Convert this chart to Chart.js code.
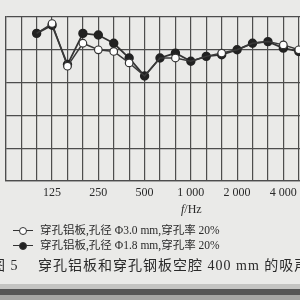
<!DOCTYPE html>
<html>
<head>
<meta charset="utf-8">
<script src="https://cdn.jsdelivr.net/npm/chart.js@4.4.0/dist/chart.umd.min.js"></script>
<style>
html, body { margin: 0; padding: 0; width: 300px; height: 300px; overflow: hidden; background: #eaeae8; }
#wrap { position: absolute; left: 0; top: 0; width: 320px; height: 205px; }
.txt { position: absolute; font-family: "Liberation Serif", "Noto Sans CJK SC", serif; color: #2a2a2a; white-space: nowrap; }
#xtitle { left: 181px; top: 202px; font-size: 12px; }
.leg { left: 13px; font-size: 11.5px; line-height: 14px; }
.mk { display: inline-block; position: relative; width: 20px; height: 14px; vertical-align: top; margin-right: 7px; }
.mk::before { content: ""; position: absolute; left: 0; right: 0; top: 7px; height: 1px; background: #333; }
.mk i { position: absolute; left: 6px; top: 3.5px; width: 6px; height: 6px; border-radius: 50%; border: 1px solid #333; box-sizing: content-box; }
.mk.open i { background: #fff; }
.mk.fill i { background: #222; }
#cap { left: -9px; top: 254px; font-size: 14px; letter-spacing: 1px; }
#b1 { position: absolute; left: 0; width: 300px; top: 284px; height: 5px; background: #c4c4c2; }
#b2 { position: absolute; left: 0; width: 300px; top: 289px; height: 6px; background: #555; }
#b3 { position: absolute; left: 0; width: 300px; top: 295px; height: 5px; background: #a5a5a3; }
</style>
</head>
<body>
<div id="wrap"><canvas id="c"></canvas></div>
<div class="txt" id="xtitle"><i>f</i>/Hz</div>
<div class="txt leg" style="top:223px"><span class="mk open"><i></i></span>穿孔铝板,孔径 Φ3.0 mm,穿孔率 20%</div>
<div class="txt leg" style="top:238px"><span class="mk fill"><i></i></span>穿孔铝板,孔径 Φ1.8 mm,穿孔率 20%</div>
<div class="txt" id="cap">图 5　 穿孔铝板和穿孔钢板空腔 400 mm 的吸声特性</div>
<div id="b1"></div><div id="b2"></div><div id="b3"></div>
<script>
// 1/3 octave band centres
const freqs = ['63', '80', '100', '125', '160', '200', '250', '315', '400', '500', '630',
    '800', '1000', '1250', '1600', '2000', '2500', '3150', '4000', '5000', '6300'];
const shownTicks = ['125', '250', '500', '1000', '2000', '4000'];
const tickText = ['125', '250', '500', '1 000', '2 000', '4 000'];

// absorption coefficient, hole 3.0 mm (open circles)
const hole30 = [null, null, 0.90, 0.96, 0.70, 0.84, 0.80, 0.79, 0.72, 0.64, 0.75,
    0.75, 0.73, 0.76, 0.78, 0.80, 0.84, 0.85, 0.83, 0.80, null];
// hole 1.8 mm (filled dots)
const hole18 = [null, null, 0.90, 0.95, 0.71, 0.90, 0.89, 0.84, 0.75, 0.64, 0.75,
    0.78, 0.73, 0.76, 0.77, 0.80, 0.84, 0.85, 0.81, 0.79, null];

const gridColor = '#4d4d4d';

new Chart(document.getElementById('c'), {
    type: 'line',
    data: {
        labels: freqs,
        datasets: [
            {
                label: '穿孔铝板,孔径 Φ3.0 mm,穿孔率 20%',
                data: hole30,
                borderColor: '#3a3a3a',
                borderWidth: 1.5,
                pointBackgroundColor: '#fff',
                pointBorderColor: '#333',
                pointBorderWidth: 1.2,
                // where both series meet only the dot shows
                pointRadius: ctx => hole30[ctx.dataIndex] === hole18[ctx.dataIndex] ? 0 : 3.8,
                tension: 0
            },
            {
                label: '穿孔铝板,孔径 Φ1.8 mm,穿孔率 20%',
                data: hole18,
                borderColor: '#333',
                borderWidth: 1.8,
                pointBackgroundColor: '#222',
                pointBorderColor: '#222',
                pointRadius: 3.8,
                tension: 0
            }
        ]
    },
    options: {
        responsive: true,
        maintainAspectRatio: false,
        animation: false,
        layout: { padding: { left: 5, top: 17, right: 5, bottom: 0 } },
        plugins: { legend: { display: false }, tooltip: { enabled: false } },
        scales: {
            x: {
                type: 'category',
                offset: false,
                grid: { color: gridColor, lineWidth: 1.2, drawTicks: false, offset: false },
                border: { color: gridColor, width: 1.2 },
                ticks: {
                    autoSkip: false,
                    maxRotation: 0,
                    padding: 5,
                    color: '#2a2a2a',
                    font: { family: 'Liberation Serif', size: 12 },
                    callback: function (v, i) {
                        const k = shownTicks.indexOf(freqs[i]);
                        return k >= 0 ? tickText[k] : '';
                    }
                },
                afterFit: function (scale) { scale.height = 24; }
            },
            y: {
                min: 0,
                max: 1,
                ticks: { display: false, stepSize: 0.2 },
                grid: { color: gridColor, lineWidth: 1.2, drawTicks: false },
                border: { color: gridColor, width: 1.2 },
                afterFit: function (scale) { scale.width = 0; }
            }
        }
    }
});
</script>
</body>
</html>
